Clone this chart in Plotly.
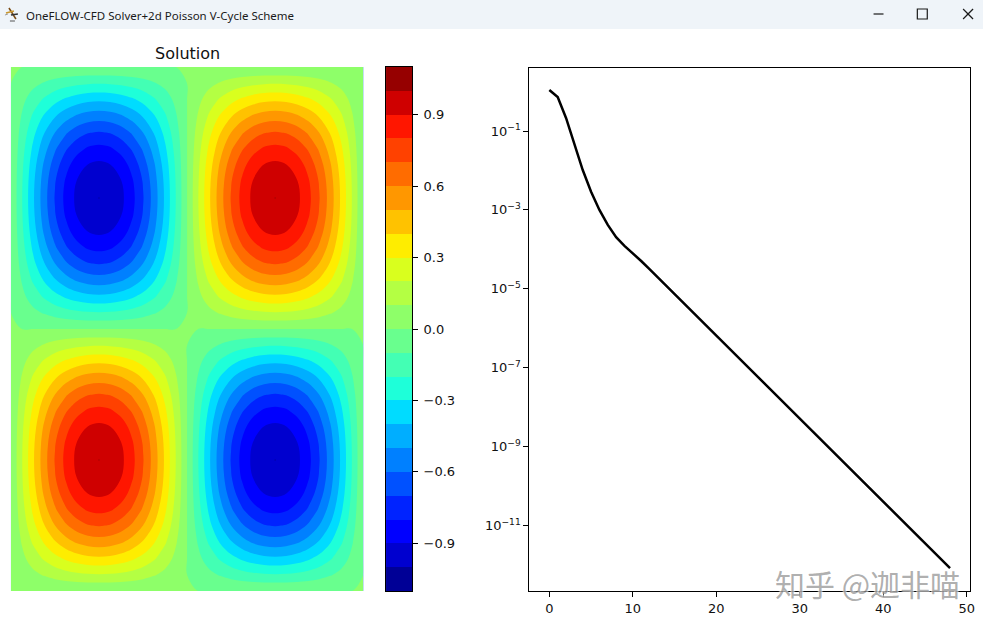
import plotly.graph_objects as go

# ---- data ----
# one quarter of a lobe: edge of the panel (first row/column) to the lobe centre (last row/column)
lobe_quarter = [
    [0, 0, 0, 0, 0, 0, 0, 0, 0],
    [0, .038, .075, .108, .138, .162, .180, .191, .195],
    [0, .075, .147, .213, .271, .318, .354, .376, .383],
    [0, .108, .213, .309, .393, .462, .514, .545, .556],
    [0, .138, .271, .393, .500, .588, .653, .694, .707],
    [0, .162, .318, .462, .588, .691, .768, .815, .831],
    [0, .180, .354, .514, .653, .768, .854, .906, .924],
    [0, .191, .376, .545, .694, .815, .906, .962, .981],
    [0, .195, .383, .556, .707, .831, .924, .981, 1.001],
]
# sign of each lobe: [bottom-left, bottom-right], [top-left, top-right]
lobe_signs = [[1, -1], [-1, 1]]
band_centers = [-1.05, -.95, -.85, -.75, -.65, -.55, -.45, -.35, -.25, -.15, -.05,
                .05, .15, .25, .35, .45, .55, .65, .75, .85, .95, 1.05]
band_colors = ["#000096", "#0000cf", "#0000ff", "#0023ff", "#0051ff", "#0080ff", "#00aeff", "#00dcff",
               "#1effd9", "#43ffb4", "#69ff8e", "#8eff69", "#b4ff43", "#d9ff1e", "#feed00", "#ffc200",
               "#ff9700", "#ff6c00", "#ff4100", "#ff1600", "#cf0000", "#960000"]
cbar_ticks = [-.9, -.6, -.3, 0, .3, .6, .9]
cbar_labels = ["−0.9", "−0.6", "−0.3", "0.0", "0.3", "0.6", "0.9"]

iteration = list(range(49))
residual_log10 = [0.04, -0.14, -0.67, -1.355, -1.99, -2.54, -3.0, -3.38, -3.69, -3.91,
                  -4.09, -4.295, -4.50, -4.71, -4.92, -5.13, -5.34, -5.55, -5.76, -5.97,
                  -6.18, -6.39, -6.60, -6.81, -7.02, -7.23, -7.44, -7.65, -7.86, -8.07,
                  -8.28, -8.50, -8.71, -8.92, -9.13, -9.34, -9.55, -9.76, -9.97, -10.18,
                  -10.39, -10.60, -10.81, -11.02, -11.23, -11.44, -11.66, -11.87, -12.08]
log_ticks = [1e-1, 1e-3, 1e-5, 1e-7, 1e-9, 1e-11]
log_labels = ["10<sup>−1</sup>", "10<sup>−3</sup>", "10<sup>−5</sup>",
              "10<sup>−7</sup>", "10<sup>−9</sup>", "10<sup>−11</sup>"]
x_ticks = [0, 10, 20, 30, 40, 50]

W, H = 988, 624
FONT = "DejaVu Sans"


def xd(a, b):
    return [a / W, b / W]


def yd(top, bottom):
    return [1 - bottom / H, 1 - top / H]


# assemble the whole panel from the table above by reflecting it
half_lobe_rows = lobe_quarter + lobe_quarter[-2::-1]
lobe = [row + row[-2::-1] for row in half_lobe_rows]
solution = []
for r, signs in enumerate(lobe_signs):
    for j, lobe_row in enumerate(lobe):
        if r == 1 and j == 0:
            continue
        left = [signs[0] * v for v in lobe_row]
        right = [signs[1] * v for v in lobe_row]
        solution.append(left + right[1:])
grid_index = list(range(len(solution)))

scale = [[i / (len(band_colors) - 1), c] for i, c in enumerate(band_colors)]

fig = go.Figure()
fig.add_trace(go.Contour(
    x=grid_index, y=grid_index, z=solution, colorscale=scale, showscale=False,
    autocontour=False, contours=dict(start=-1.0, end=1.0, size=0.1, coloring="fill", showlines=False),
    line=dict(width=0, smoothing=1), hoverinfo="skip", xaxis="x", yaxis="y"))
fig.add_trace(go.Heatmap(
    x=[0], y=band_centers, z=[[v] for v in band_centers], colorscale=scale,
    zmin=band_centers[0], zmax=band_centers[-1], showscale=False, hoverinfo="skip",
    xaxis="x2", yaxis="y2"))
fig.add_trace(go.Scatter(
    x=iteration, y=[10 ** v for v in residual_log10], mode="lines",
    line=dict(color="black", width=2.5), hoverinfo="skip", xaxis="x3", yaxis="y3"))

tickfont = dict(family=FONT, size=13, color="#111111")
frame = dict(showline=True, linecolor="black", linewidth=1, mirror=True, showgrid=False, zeroline=False)

shapes = [
    dict(type="rect", xref="paper", yref="paper", x0=0, x1=1, y0=1 - 29 / H, y1=1,
         fillcolor="#eff4f9", line_width=0, layer="below"),
]


def seg(x0, y0, x1, y1, color="#1a1a1a", width=1.2):
    shapes.append(dict(type="line", xref="paper", yref="paper", x0=x0 / W, x1=x1 / W,
                       y0=1 - y0 / H, y1=1 - y1 / H, line=dict(color=color, width=width)))


seg(878, 14, 888, 14)
seg(968, 9, 978, 19)
seg(978, 9, 968, 19)
shapes.append(dict(type="rect", xref="paper", yref="paper", x0=922 / W, x1=932 / W, y0=1 - 19 / H, y1=1 - 9 / H,
                   line=dict(color="#1a1a1a", width=1.2)))
# window icon
seg(9, 8, 16, 19, "#7a4a12", 1.5)
seg(6, 13, 14, 11, "#c9962c", 1.5)
seg(11, 15, 18, 14, "#333333", 1.5)
seg(5, 15, 8, 14, "#999999", 1)
seg(10, 21, 15, 21, "#555555", 1)

annotations = [
    dict(text="Solution", x=188 / W, y=1 - 53 / H, xref="paper", yref="paper", showarrow=False,
         xanchor="center", yanchor="middle", font=dict(family=FONT, size=16, color="#111111")),
    dict(text="OneFLOW-CFD Solver+2d Poisson V-Cycle Scheme", x=24 / W, y=1 - 15 / H, xref="paper", yref="paper",
         showarrow=False, xanchor="left", yanchor="middle", font=dict(family="Noto Sans", size=11.5, color="#1a1a1a")),
    dict(text="知乎 @迦非喵", x=872 / W, y=1 - 583 / H, xref="paper", yref="paper", showarrow=False,
         xanchor="center", yanchor="middle",
         font=dict(family="Noto Sans CJK SC", size=30, color="rgba(130,130,130,0.65)",
                   shadow="1px 1px 1px white, -1px -1px 1px white")),
]

fig.update_layout(
    width=W, height=H, margin=dict(l=0, r=0, t=0, b=0), showlegend=False, autosize=False,
    paper_bgcolor="white", plot_bgcolor="white", shapes=shapes, annotations=annotations,
    xaxis=dict(domain=xd(11, 365), range=[0, grid_index[-1]], visible=False),
    yaxis=dict(domain=yd(67, 591), range=[0, grid_index[-1]], visible=False),
    xaxis2=dict(domain=xd(388, 414), range=[-.5, .5], showticklabels=False, ticks="", anchor="y2", **frame),
    yaxis2=dict(domain=yd(67, 591), range=[-1.1, 1.1], side="right", tickmode="array", tickvals=cbar_ticks,
                ticktext=cbar_labels, ticks="outside", ticklen=5, tickcolor="black", tickfont=tickfont,
                ticklabelstandoff=3, anchor="x2", **frame),
    xaxis3=dict(domain=xd(532, 975), range=[-2.4, 50.4], tickmode="array", tickvals=x_ticks,
                ticks="outside", ticklen=5, tickcolor="black", tickfont=tickfont, anchor="y3", **frame),
    yaxis3=dict(domain=yd(68, 591), type="log", range=[-12.66, 0.597], tickmode="array", tickvals=log_ticks,
                ticktext=log_labels, ticks="outside", ticklen=5, tickcolor="black", tickfont=tickfont,
                anchor="x3", **frame),
)

fig.write_html("out.html", config={"displayModeBar": False, "responsive": False},
               post_script="document.documentElement.style.margin='0';document.body.style.margin='0';document.body.style.overflow='hidden';")
